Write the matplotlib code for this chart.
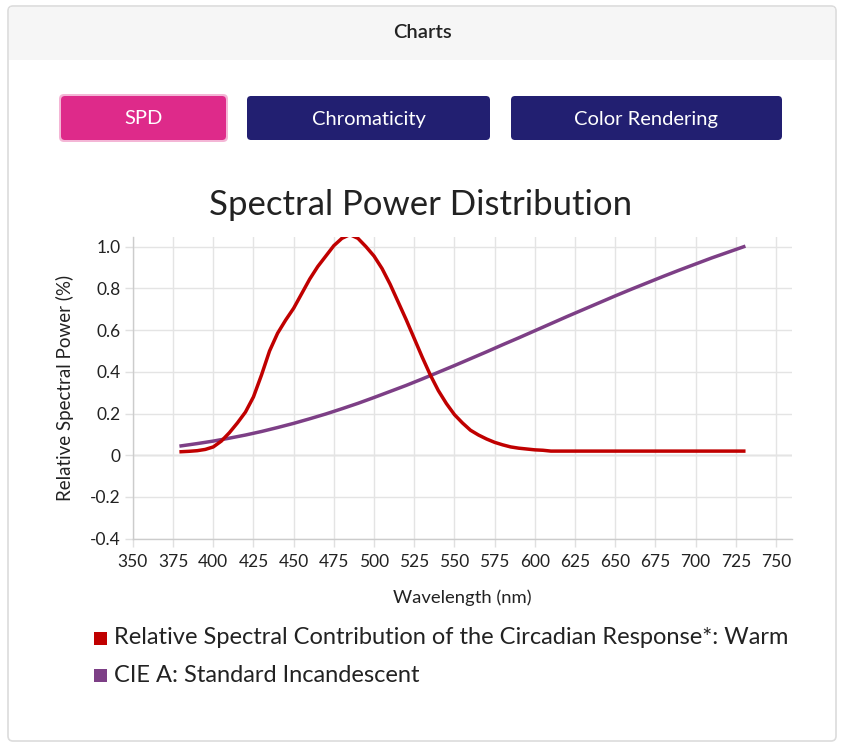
import numpy as np
import matplotlib
matplotlib.use("Agg")
import matplotlib.pyplot as plt
from matplotlib.patches import FancyBboxPatch, Rectangle

plt.rcParams['font.family'] = ['Lato', 'DejaVu Sans']

# --- data ---
circ_wl = np.arange(380, 731, 5)
circ_warm = [0.017, 0.019, 0.022, 0.028, 0.040, 0.068, 0.108, 0.155, 0.207, 0.280,
             0.385, 0.500, 0.585, 0.648, 0.705, 0.775, 0.845, 0.905, 0.955, 1.005,
             1.040, 1.058, 1.040, 1.000, 0.955, 0.895, 0.820, 0.735, 0.650, 0.560,
             0.470, 0.385, 0.310, 0.248, 0.195, 0.155, 0.120, 0.097, 0.078, 0.062,
             0.050, 0.040, 0.034, 0.030, 0.026, 0.024,
             0.020, 0.020, 0.020, 0.020, 0.020, 0.020, 0.020, 0.020, 0.020, 0.020,
             0.020, 0.020, 0.020, 0.020, 0.020, 0.020, 0.020, 0.020, 0.020, 0.020,
             0.020, 0.020, 0.020, 0.020, 0.020]
cie_wl = np.arange(380, 731, 10)
cie_a = [0.045, 0.056, 0.068, 0.082, 0.097, 0.114, 0.133, 0.153, 0.175, 0.198,
         0.223, 0.249, 0.277, 0.306, 0.335, 0.366, 0.398, 0.430, 0.463, 0.496,
         0.530, 0.563, 0.597, 0.631, 0.665, 0.698, 0.731, 0.764, 0.796, 0.827,
         0.858, 0.888, 0.917, 0.946, 0.973, 1.000]

series_names = ["Relative Spectral Contribution of the Circadian Response*: Warm",
                "CIE A: Standard Incandescent"]
series_colors = ["#c00000", "#7d3f86"]
buttons = ["SPD", "Chromaticity", "Color Rendering"]
x_ticks = list(range(350, 751, 25))
y_ticks = [-0.4, -0.2, 0, 0.2, 0.4, 0.6, 0.8, 1.0]
y_ticklabels = ["-0.4", "-0.2", "0", "0.2", "0.4", "0.6", "0.8", "1.0"]

W, H = 847, 749
fig = plt.figure(figsize=(W / 100, H / 100), dpi=100)
fig.patch.set_facecolor("white")

# background axes in pixel coordinates for the page chrome
bg = fig.add_axes([0, 0, 1, 1])
bg.set_xlim(0, W)
bg.set_ylim(H, 0)
bg.axis("off")

# card + header
bg.add_patch(FancyBboxPatch((8, 6), 828, 735, boxstyle="round,pad=0,rounding_size=5",
                            fc="white", ec="#dcdcdc", lw=1.2))
bg.add_patch(FancyBboxPatch((9, 7), 826, 53, boxstyle="round,pad=0,rounding_size=4",
                            fc="#f6f6f6", ec="none"))
bg.add_patch(Rectangle((9, 40), 826, 20, fc="#f6f6f6", ec="none"))
bg.text(422, 32, "Charts", ha="center", va="center", fontsize=14.5,
        fontweight="semibold", color="#222222")

# buttons
btn_boxes = [(61, 226), (247, 490), (511, 782)]
btn_colors = ["#de2a8a", "#221f71", "#221f71"]
for (x0, x1), label, c in zip(btn_boxes, buttons, btn_colors):
    if label == "SPD":
        bg.add_patch(FancyBboxPatch((x0 - 2, 94), x1 - x0 + 4, 48,
                                    boxstyle="round,pad=0,rounding_size=5",
                                    fc="#f4b6d6", ec="none"))
    bg.add_patch(FancyBboxPatch((x0, 96), x1 - x0, 44, boxstyle="round,pad=0,rounding_size=4",
                                fc=c, ec="none"))
    bg.text((x0 + x1) / 2, 119, label, ha="center", va="center", fontsize=14.5,
            color="white")

# title
bg.text(421, 205, "Spectral Power Distribution", ha="center", va="center",
        fontsize=25, color="#222222")

# legend
for i, (name, c) in enumerate(zip(series_names, series_colors)):
    yy = 638 + i * 37
    bg.add_patch(Rectangle((94, yy - 6.5), 13, 13, fc=c, ec="none"))
    bg.text(114, yy, name, ha="left", va="center", fontsize=17, color="#222222")

# chart axes
left, right, top, bottom = 132.9, 791.7, 237, 538.7
ax = fig.add_axes([left / W, 1 - bottom / H, (right - left) / W, (bottom - top) / H])
ax.set_facecolor("none")
ax.plot(circ_wl, circ_warm, color=series_colors[0], lw=2.5, zorder=3)
ax.plot(cie_wl, cie_a, color=series_colors[1], lw=2.5, zorder=2)

ax.set_xlim(350, 759.8)
ax.set_ylim(-0.4, 1.0465)
ax.set_xticks(x_ticks)
ax.set_yticks(y_ticks)
ax.set_yticklabels(y_ticklabels)
ax.grid(True, color="#e4e4e4", lw=1)
ax.axhline(0, color="#c8c8c8", lw=1, zorder=1)
for s in ["top", "right"]:
    ax.spines[s].set_visible(False)
for s in ["left", "bottom"]:
    ax.spines[s].set_color("#cccccc")
    ax.spines[s].set_linewidth(1)
ax.tick_params(axis="both", colors="#e0e0e0", labelcolor="#222222", labelsize=12.5,
               length=6, width=1)
ax.tick_params(axis="x", pad=5)
ax.tick_params(axis="y", pad=3)
ax.set_xlabel("Wavelength (nm)", fontsize=13.3, color="#222222", labelpad=14)
ax.set_ylabel("Relative Spectral Power (%)", fontsize=13.5, color="#222222", labelpad=11)

fig.savefig("out.png", dpi=100, facecolor="white")
